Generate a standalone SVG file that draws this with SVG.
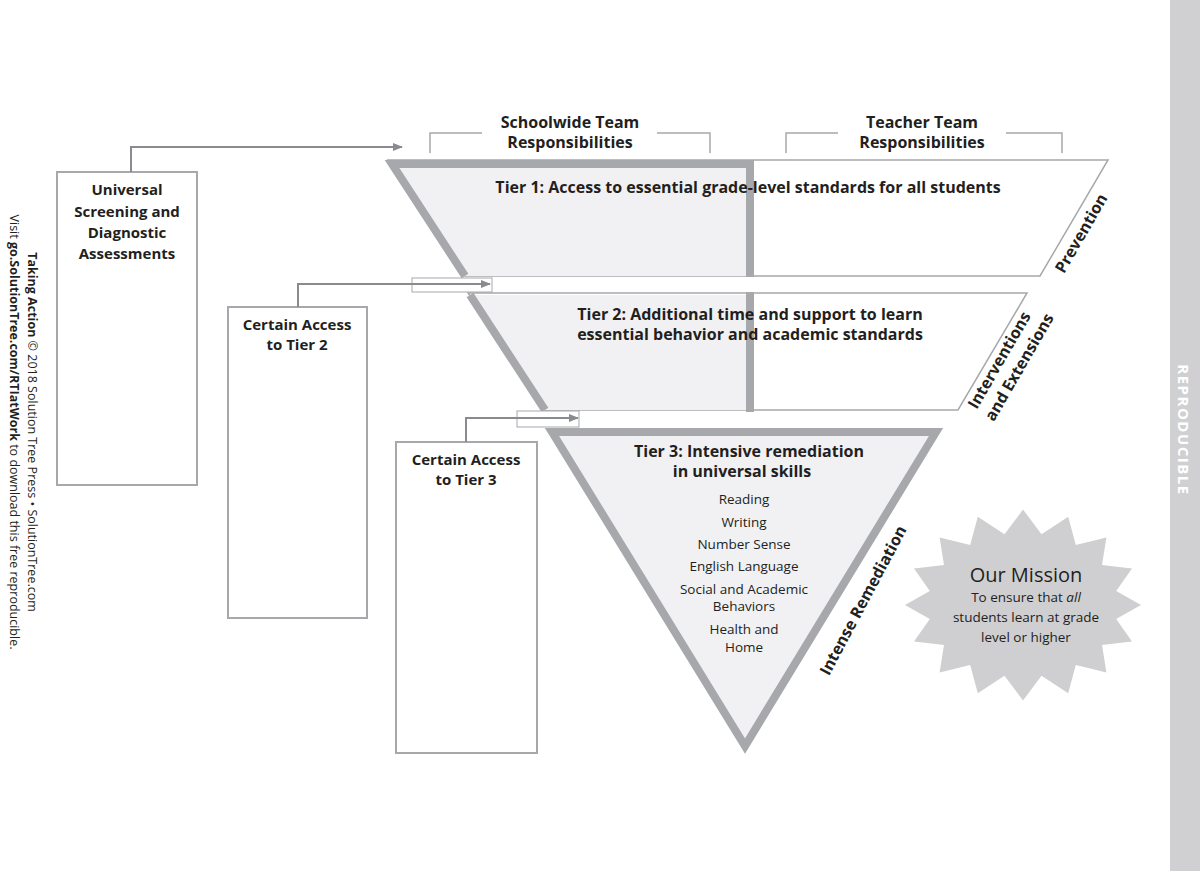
<svg xmlns="http://www.w3.org/2000/svg" width="1200" height="871" viewBox="0 0 1200 871">
<defs>
<marker id="ah" markerWidth="10" markerHeight="8" refX="9" refY="4" orient="auto" markerUnits="userSpaceOnUse"><path d="M0,0 L10,4 L0,8 Z" fill="#8a8b8e"/></marker>
<style>
.b{font-family:"Open Sans","Noto Sans",sans-serif;font-weight:bold;font-size:16px;fill:#231f20;text-anchor:middle}
.bb{font-family:"Open Sans","Noto Sans",sans-serif;font-weight:bold;font-size:15px;fill:#231f20;text-anchor:middle}
.r{font-family:"Open Sans","Noto Sans",sans-serif;font-size:13.5px;fill:#231f20;text-anchor:middle}
.thin{fill:none;stroke:#a7a8ab;stroke-width:1.5}
.thick{fill:none;stroke:#a7a8ab;stroke-width:8}
.box{fill:#fff;stroke:#a7a8ab;stroke-width:2}
.con{fill:none;stroke:#8a8b8e;stroke-width:2;marker-end:url(#ah)}
</style>
</defs>
<rect width="1200" height="871" fill="#fff"/>
<rect x="1170" y="0" width="30" height="871" fill="#d0d0d2"/>
<text transform="translate(1178,430) rotate(90)" text-anchor="middle" font-family="Open Sans,sans-serif" font-weight="bold" font-size="15" fill="#fff" letter-spacing="1.5">REPRODUCIBLE</text>
<g font-family="Open Sans,Noto Sans,sans-serif" font-size="12.5" fill="#231f20">
<text transform="translate(28,432) rotate(90)" text-anchor="middle"><tspan font-weight="bold">Taking Action</tspan> © 2018 Solution Tree Press • SolutionTree.com</text>
<text transform="translate(10,432) rotate(90)" text-anchor="middle">Visit <tspan font-weight="bold">go.SolutionTree.com/RTIatWork</tspan> to download this free reproducible.</text>
</g>
<g id="brackets">
<path class="thin" d="M430,153 V133 H482 M657,133 H710 V153"/>
<text class="b" x="570" y="128">Schoolwide Team</text>
<text class="b" x="570" y="148">Responsibilities</text>
<path class="thin" d="M786,153 V133 H838 M1006,133 H1062 V153"/>
<text class="b" x="922" y="128">Teacher Team</text>
<text class="b" x="922" y="148">Responsibilities</text>
</g>
<g id="tier1">
<path d="M388,160 H1108 L1040,276 H465 Z" fill="#fff" stroke="#a7a8ab" stroke-width="1.5"/>
<path d="M392,164 H750 V276 H465 Z" fill="#f1f1f3"/>
<path class="thick" d="M465,276 L392,164 H750"/>
<line class="thick" x1="750" y1="160" x2="750" y2="277"/>
<text class="b" x="748" y="193">Tier 1: Access to essential grade-level standards for all students</text>
<text class="b" transform="translate(1086,236) rotate(-60)">Prevention</text>
</g>
<g id="tier2">
<path d="M468,293 H1027 L958,410 H545 Z" fill="#fff" stroke="#a7a8ab" stroke-width="1.5"/>
<path d="M470,295 H750 V410 H545 Z" fill="#f1f1f3"/>
<path class="thick" d="M470,295 L545,410"/>
<line class="thick" x1="750" y1="292" x2="750" y2="412"/>
<text class="b" x="750" y="320">Tier 2: Additional time and support to learn</text>
<text class="b" x="750" y="340">essential behavior and academic standards</text>
<text class="b" transform="translate(1004,363) rotate(-60)">Interventions</text>
<text class="b" transform="translate(1024,370) rotate(-60)">and Extensions</text>
</g>
<g id="tier3">
<path d="M552,432 H936 L745,746 Z" fill="#f1f1f3" stroke="#a7a8ab" stroke-width="8"/>
<text class="b" x="749" y="457">Tier 3: Intensive remediation</text>
<text class="b" x="742" y="477">in universal skills</text>
<text class="r" x="744" y="504">Reading</text>
<text class="r" x="744" y="527">Writing</text>
<text class="r" x="744" y="549">Number Sense</text>
<text class="r" x="744" y="571">English Language</text>
<text class="r" x="744" y="594">Social and Academic</text>
<text class="r" x="744" y="611">Behaviors</text>
<text class="r" x="744" y="634">Health and</text>
<text class="r" x="744" y="652">Home</text>
<text class="b" transform="translate(868,603) rotate(-62)">Intense Remediation</text>
</g>
<g id="strips">
<rect x="412" y="278" width="80" height="14" fill="#fff" stroke="#a7a8ab" stroke-width="1"/>
<rect x="517" y="411" width="62" height="16" fill="#fff" stroke="#a7a8ab" stroke-width="1"/>
</g>
<g id="box1"><rect class="box" x="57" y="172" width="140" height="313"/>
<text class="bb" x="127" y="195">Universal</text><text class="bb" x="127" y="217">Screening and</text><text class="bb" x="127" y="238">Diagnostic</text><text class="bb" x="127" y="259">Assessments</text></g>
<g id="box2"><rect class="box" x="228" y="307" width="139" height="311"/>
<text class="bb" x="297" y="330">Certain Access</text><text class="bb" x="297" y="350">to Tier 2</text></g>
<g id="box3"><rect class="box" x="396" y="442" width="141" height="311"/>
<text class="bb" x="466" y="465">Certain Access</text><text class="bb" x="466" y="485">to Tier 3</text></g>
<g id="connectors">
<path class="con" d="M131,172 V147 H402"/>
<path class="con" d="M298,307 V284 H490"/>
<path class="con" d="M466,442 V418 H578"/>
</g>
<g id="mission">
<polygon fill="#cfcfd1" transform="translate(1023,605) scale(1,1.06) translate(-1023,-605)" points="1141,605 1116.2,618.3 1132,639.5 1102,642.8 1106.4,668.6 1075.8,661.5 1068.2,688.2 1041.5,671.7 1023,695 1004.5,671.7 977.8,688.2 970.2,661.5 939.6,668.6 944,642.8 914,639.5 929.8,618.3 905,605 929.8,591.7 914,570.5 944,567.2 939.6,541.4 970.2,548.5 977.8,521.8 1004.5,538.3 1023,515 1041.5,538.3 1068.2,521.8 1075.8,548.5 1106.4,541.4 1102,567.2 1132,570.5 1116.2,591.7"/>
<text x="1026" y="582" text-anchor="middle" font-family="Open Sans,sans-serif" font-size="20" fill="#231f20">Our Mission</text>
<text class="r" x="1026" y="602" font-size="15">To ensure that <tspan font-style="italic">all</tspan></text>
<text class="r" x="1026" y="622" font-size="15">students learn at grade</text>
<text class="r" x="1026" y="642" font-size="15">level or higher</text>
</g>
</svg>
